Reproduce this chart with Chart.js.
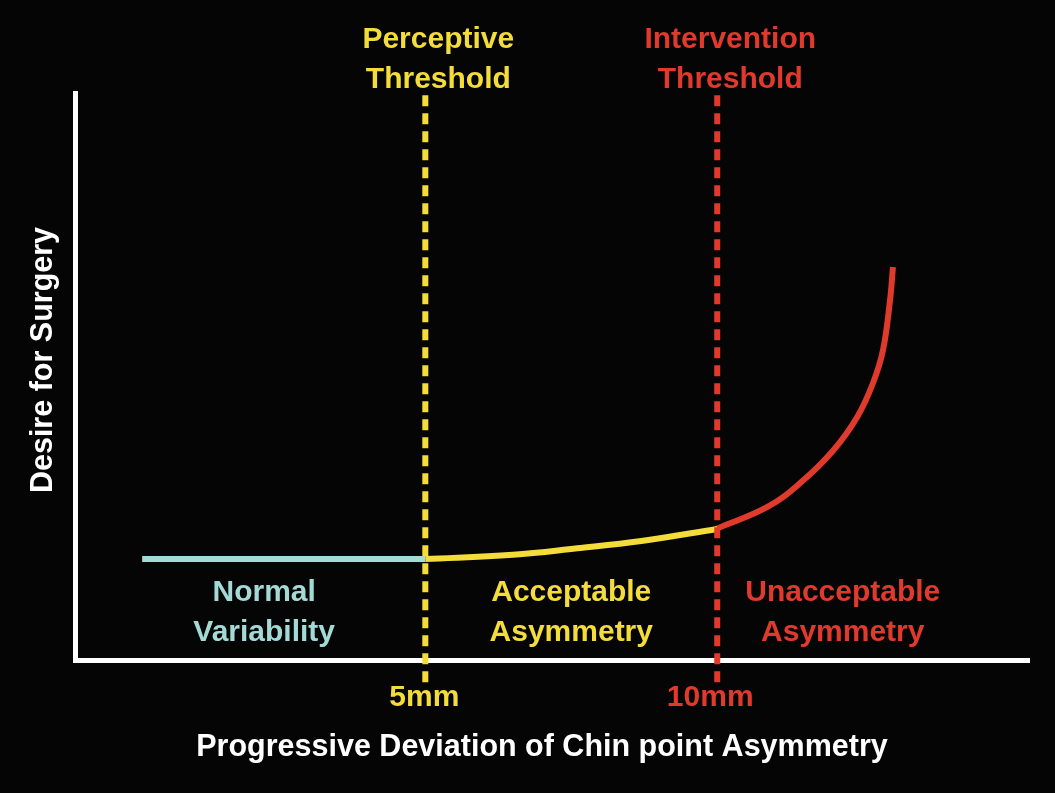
<!DOCTYPE html>
<html>
<head>
<meta charset="utf-8">
<script src="https://cdn.jsdelivr.net/npm/chart.js@4"></script>
<style>
  html, body { margin: 0; padding: 0; background: #050505; }
  #wrap { width: 1055px; height: 793px; }
</style>
</head>
<body>
<div id="wrap"><canvas id="chin-chart"></canvas></div>
<script>
// DATA ------------------------------------------------------

// x in mm of chin point deviation, y in arbitrary "desire" units (0-100)
const normalX = [0.15, 5];
const normalY = [17.8, 17.8];

const acceptableX = [5, 6.5, 7.6, 8.7, 10];
const acceptableY = [17.8, 18.55, 19.7, 21.0, 23.1];

const unacceptableX = [10, 10.86, 11.42, 11.99, 12.4, 12.67, 12.84, 12.96, 13.01];
const unacceptableY = [23.2, 27.0, 31.2, 37.0, 42.9, 48.9, 54.7, 63.5, 69.3];

const thresholdX = [5, 10];
const thresholdNames = [["Perceptive", "Threshold"], ["Intervention", "Threshold"]];
const tickLabels = ["5mm", "10mm"];
const lineTop = 99.6;
const lineBottom = -4.1;

const regionNames = [["Normal", "Variability"], ["Acceptable", "Asymmetry"], ["Unacceptable", "Asymmetry"]];
const regionCenters = [2.24, 7.5, 12.15];

const xTitle = "Progressive Deviation of Chin point Asymmetry";
const yTitle = "Desire for Surgery";

// COLOURS ------------------------------------------------------

const CYAN = '#a3dad6';
const YELLOW = '#f4dc3a';
const RED = '#e03a2c';
const WHITE = '#ffffff';
const thresholdColors = [YELLOW, RED];
const regionColors = [CYAN, YELLOW, RED];

const FONT = '"Liberation Sans", Arial, sans-serif';

const toPoints = (xs, ys) => xs.map((x, i) => ({ x: x, y: ys[i] }));

// TEXT PLUGIN ------------------------------------------------------

const textPlugin = {
    id: 'textPlugin',
    afterDraw(chart) {
        const ctx = chart.ctx;
        const xs = chart.scales.x;
        const area = chart.chartArea;
        ctx.save();
        ctx.textAlign = 'center';
        ctx.textBaseline = 'alphabetic';
        ctx.font = 'bold 30px ' + FONT;

        // threshold labels above the dashed lines
        thresholdX.forEach((v, i) => {
            const px = xs.getPixelForValue(v) + 13;
            ctx.fillStyle = thresholdColors[i];
            ctx.fillText(thresholdNames[i][0], px, 48);
            ctx.fillText(thresholdNames[i][1], px, 88);
        });

        // region labels
        regionCenters.forEach((v, i) => {
            const px = xs.getPixelForValue(v);
            ctx.fillStyle = regionColors[i];
            ctx.fillText(regionNames[i][0], px, area.bottom - 59);
            ctx.fillText(regionNames[i][1], px, area.bottom - 19);
        });

        // tick labels
        thresholdX.forEach((v, i) => {
            ctx.fillStyle = thresholdColors[i];
            ctx.fillText(tickLabels[i], xs.getPixelForValue(v) - 1 - i * 6, area.bottom + 46);
        });

        // axis titles
        ctx.fillStyle = WHITE;
        ctx.font = 'bold 30.5px ' + FONT;
        ctx.fillText(xTitle, 542, area.bottom + 96);

        ctx.translate(52, 360);
        ctx.rotate(-Math.PI / 2);
        ctx.fillText(yTitle, 0, 0);
        ctx.restore();
    }
};

// CHART ------------------------------------------------------

const canvas = document.getElementById("chin-chart");

const chinData = {
    datasets: [
        {
            data: toPoints([thresholdX[0], thresholdX[0]], [lineTop, lineBottom]),
            borderColor: YELLOW,
            borderWidth: 6,
            borderDash: [11, 7],
            clip: false
        },
        {
            data: toPoints([thresholdX[1], thresholdX[1]], [lineTop, lineBottom]),
            borderColor: RED,
            borderWidth: 6,
            borderDash: [11, 7],
            clip: false
        },
        {
            data: toPoints(normalX, normalY),
            borderColor: CYAN,
            borderWidth: 6
        },
        {
            data: toPoints(acceptableX, acceptableY),
            borderColor: YELLOW,
            borderWidth: 6,
            tension: 0.4
        },
        {
            data: toPoints(unacceptableX, unacceptableY),
            borderColor: RED,
            borderWidth: 6,
            tension: 0.4
        }
    ]
};

const chinOptions = {
    responsive: true,
    maintainAspectRatio: false,
    animation: false,
    layout: {
        padding: { left: 67, top: 93, right: 26, bottom: 125 }
    },
    elements: {
        point: { radius: 0 },
        line: { borderCapStyle: 'butt', fill: false }
    },
    scales: {
        x: {
            type: 'linear',
            min: -1,
            max: 15.34,
            grid: { display: false },
            ticks: { display: false },
            border: { display: true, color: WHITE, width: 5 }
        },
        y: {
            type: 'linear',
            min: 0,
            max: 100,
            grid: { display: false },
            ticks: { display: false },
            border: { display: true, color: WHITE, width: 5 }
        }
    },
    plugins: {
        legend: { display: false },
        tooltip: { enabled: false }
    }
};

let chinChart = new Chart(canvas, {
    type: 'line',
    data: chinData,
    options: chinOptions,
    plugins: [textPlugin]
});
</script>
</body>
</html>
